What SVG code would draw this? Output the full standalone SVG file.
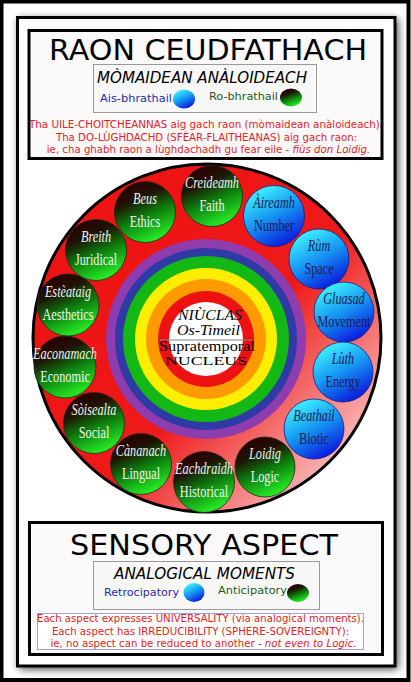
<svg xmlns="http://www.w3.org/2000/svg" width="411" height="682" viewBox="0 0 411 682">
<defs>
<filter id="blur" x="-10%" y="-10%" width="120%" height="120%"><feGaussianBlur stdDeviation="4"/></filter>
<linearGradient id="gGreen" x1="0.3" y1="0.05" x2="0.7" y2="0.95">
<stop offset="0" stop-color="#2a0000"/><stop offset="0.25" stop-color="#1e1404"/><stop offset="0.55" stop-color="#0c7a0c"/><stop offset="1" stop-color="#26ee26"/>
</linearGradient>
<linearGradient id="gBlue" x1="0.25" y1="0.05" x2="0.75" y2="0.95">
<stop offset="0" stop-color="#3cf2ff"/><stop offset="0.5" stop-color="#1592f2"/><stop offset="1" stop-color="#0a18dc"/>
</linearGradient>
<linearGradient id="gRing" x1="0.3" y1="0.25" x2="0.95" y2="0.85">
<stop offset="0" stop-color="#ee1414"/><stop offset="0.45" stop-color="#ee1a1a"/><stop offset="1" stop-color="#fcc8c8"/>
</linearGradient>
<style>
.sans{font-family:"DejaVu Sans",sans-serif}
.serif{font-family:"Liberation Serif","Times New Roman",serif}
.red{fill:#e02424;font-size:10.2px;text-anchor:middle}
.box{fill:#fcf9fb}
.frame{fill:none;stroke:#000;stroke-width:3}
.sub{fill:#f8f8f8;stroke:#9a9a9a;stroke-width:1}
.green circle{fill:url(#gGreen);stroke:#1a2a1a;stroke-width:0.8}
.blue circle{fill:url(#gBlue);stroke:#10208a;stroke-width:0.8}
.green text{fill:#f2f2f2}
.blue text{fill:#1b1b55}
.asp text{font-family:"Liberation Serif","Times New Roman",serif;font-size:17.5px;text-anchor:middle}
.it{font-style:italic}
</style>
</defs>

<!-- background and outer frame -->
<rect x="0" y="0" width="411" height="682" fill="#fff"/>
<rect x="19" y="19" width="379" height="650" fill="#000" opacity="0.75" filter="url(#blur)"/>
<rect x="1.5" y="1.5" width="407" height="678.5" fill="none" stroke="#000" stroke-width="4"/>
<rect x="17.5" y="17.5" width="377.5" height="648.5" fill="#fff" stroke="#000" stroke-width="3"/>

<!-- top box -->
<g id="header">
<rect x="29" y="30.5" width="353" height="128" class="box"/>
<text x="208" y="60" class="sans" font-size="29" text-anchor="middle" textLength="318" lengthAdjust="spacingAndGlyphs">RAON CEUDFATHACH</text>
<rect x="93.5" y="64.5" width="223" height="48" class="sub"/>
<text x="202" y="83" class="sans it" font-size="15" text-anchor="middle" textLength="210" lengthAdjust="spacingAndGlyphs">MÒMAIDEAN ANÀLOIDEACH</text>
<text x="100" y="102" class="sans" font-size="11.3" fill="#2a2aa8" textLength="72" lengthAdjust="spacingAndGlyphs">Ais-bhrathail</text>
<ellipse cx="184" cy="99" rx="11" ry="9.5" fill="url(#gBlue)"/>
<text x="209" y="99.5" class="sans" font-size="11.3" fill="#1d5a1d" textLength="69" lengthAdjust="spacingAndGlyphs">Ro-bhrathail</text>
<ellipse cx="291" cy="97.5" rx="11" ry="9" fill="url(#gGreen)"/>
<text x="206" y="128" class="sans red" textLength="354" lengthAdjust="spacingAndGlyphs">Tha UILE-CHOITCHEANNAS aig gach raon (mòmaidean anàloideach).</text>
<text x="206.5" y="140.5" class="sans red">Tha DO-LÙGHDACHD (SFÈAR-FLAITHEANAS) aig gach raon:</text>
<text x="208.5" y="153" class="sans red">ie, cha ghabh raon a lùghdachadh gu fear eile - <tspan font-style="italic">fiùs don Loidig.</tspan></text>
<rect x="29" y="30.5" width="353" height="128" class="frame"/>
</g>

<!-- main circle -->
<g id="circle">
<circle cx="207" cy="338" r="174" fill="url(#gRing)" stroke="#000" stroke-width="3"/>
</g>

<g id="nucleus">
<circle cx="206" cy="339" r="100" fill="#8e3cae"/>
<circle cx="206" cy="339" r="91" fill="#2f3aa6"/>
<circle cx="206" cy="339" r="83" fill="#14b814"/>
<circle cx="206" cy="339" r="71" fill="#ffee00"/>
<circle cx="206" cy="339" r="60" fill="#ff9a00"/>
<circle cx="206" cy="339" r="48" fill="#ee1111"/>
<circle cx="206" cy="339" r="37" fill="#fff"/>
<text x="210" y="320" class="serif it" font-size="15" text-anchor="middle" textLength="64" lengthAdjust="spacingAndGlyphs">NIÙCLAS</text>
<text x="208.5" y="335" class="serif it" font-size="15" text-anchor="middle" textLength="63" lengthAdjust="spacingAndGlyphs">Os-Timeil</text>
<line x1="160" y1="340" x2="252" y2="340" stroke="#888" stroke-width="1"/>
<text x="207" y="351" class="serif" font-size="14.5" text-anchor="middle" textLength="96" lengthAdjust="spacingAndGlyphs">Supratemporal</text>
<text x="206" y="364.5" class="serif" font-size="13.5" text-anchor="middle" textLength="82" lengthAdjust="spacingAndGlyphs">NUCLEUS</text>
</g>

<!-- aspects -->
<g id="faith" class="asp green" transform="translate(212,196)"><circle r="30.5"/><text class="it" y="-8.5" transform="scale(0.7,1)">Creideamh</text><text y="15.5" transform="scale(0.7,1)">Faith</text></g>
<g id="number" class="asp blue" transform="translate(274,216)"><circle r="30.5"/><text class="it" y="-8.5" transform="scale(0.7,1)">Àireamh</text><text y="15.5" transform="scale(0.7,1)">Number</text></g>
<g id="space" class="asp blue" transform="translate(319,259)"><circle r="30"/><text class="it" y="-8.5" transform="scale(0.7,1)">Rùm</text><text y="15.5" transform="scale(0.7,1)">Space</text></g>
<g id="movement" class="asp blue" transform="translate(344,312)"><circle r="30"/><text class="it" y="-8.5" transform="scale(0.7,1)">Gluasad</text><text y="15.5" transform="scale(0.7,1)">Movement</text></g>
<g id="energy" class="asp blue" transform="translate(343,372)"><circle r="30"/><text class="it" y="-8.5" transform="scale(0.7,1)">Lùth</text><text y="15.5" transform="scale(0.7,1)">Energy</text></g>
<g id="biotic" class="asp blue" transform="translate(314,429)"><circle r="30"/><text class="it" y="-8.5" transform="scale(0.7,1)">Beathail</text><text y="15.5" transform="scale(0.7,1)">Biotic</text></g>
<g id="logic" class="asp green" transform="translate(265,467)"><circle r="30"/><text class="it" y="-8.5" transform="scale(0.7,1)">Loidig</text><text y="15.5" transform="scale(0.7,1)">Logic</text></g>
<g id="historical" class="asp green" transform="translate(204,482)"><circle r="30.5"/><text class="it" y="-8.5" transform="scale(0.7,1)">Eachdraidh</text><text y="15.5" transform="scale(0.7,1)">Historical</text></g>
<g id="lingual" class="asp green" transform="translate(141,464)"><circle r="30.5"/><text class="it" y="-8.5" transform="scale(0.7,1)">Cànanach</text><text y="15.5" transform="scale(0.7,1)">Lingual</text></g>
<g id="social" class="asp green" transform="translate(94,423)"><circle r="30.5"/><text class="it" y="-8.5" transform="scale(0.7,1)">Sòisealta</text><text y="15.5" transform="scale(0.7,1)">Social</text></g>
<g id="economic" class="asp green" transform="translate(65,367)"><circle r="31"/><text class="it" y="-8.5" transform="scale(0.7,1)">Eaconamach</text><text y="15.5" transform="scale(0.7,1)">Economic</text></g>
<g id="aesthetics" class="asp green" transform="translate(68,305)"><circle r="31"/><text class="it" y="-8.5" transform="scale(0.7,1)">Estèataig</text><text y="15.5" transform="scale(0.7,1)">Aesthetics</text></g>
<g id="juridical" class="asp green" transform="translate(96,250)"><circle r="30.5"/><text class="it" y="-8.5" transform="scale(0.7,1)">Breith</text><text y="15.5" transform="scale(0.7,1)">Juridical</text></g>
<g id="ethics" class="asp green" transform="translate(145,212)"><circle r="30.5"/><text class="it" y="-8.5" transform="scale(0.7,1)">Beus</text><text y="15.5" transform="scale(0.7,1)">Ethics</text></g>

<!-- bottom box -->
<g id="footer">
<rect x="29.5" y="522.5" width="353" height="132" class="box"/>
<text x="204" y="555" class="sans" font-size="29" text-anchor="middle" textLength="268" lengthAdjust="spacingAndGlyphs">SENSORY ASPECT</text>
<rect x="93.5" y="561.5" width="226" height="48" class="sub"/>
<text x="204.5" y="579" class="sans it" font-size="15" text-anchor="middle" textLength="181" lengthAdjust="spacingAndGlyphs">ANALOGICAL MOMENTS</text>
<text x="104" y="596" class="sans" font-size="10.2" fill="#2a2aa8" textLength="75" lengthAdjust="spacingAndGlyphs">Retrocipatory</text>
<ellipse cx="194" cy="592.5" rx="10.5" ry="9.5" fill="url(#gBlue)"/>
<text x="218" y="594" class="sans" font-size="11.3" fill="#1d5a1d" textLength="69" lengthAdjust="spacingAndGlyphs">Anticipatory</text>
<ellipse cx="298" cy="593" rx="11" ry="9" fill="url(#gGreen)"/>
<rect x="37.5" y="613.5" width="326" height="36" fill="#fff" stroke="#a0a0e0" stroke-width="1"/>
<text x="200.5" y="621.5" class="sans red" textLength="327" lengthAdjust="spacingAndGlyphs">Each aspect expresses UNIVERSALITY (via analogical moments).</text>
<text x="200.5" y="634.5" class="sans red">Each aspect has IRREDUCIBILITY (SPHERE-SOVEREIGNTY):</text>
<text x="203.5" y="646.5" class="sans red">ie, no aspect can be reduced to another - <tspan font-style="italic">not even to Logic.</tspan></text>
<rect x="29.5" y="522.5" width="353" height="132" class="frame"/>
</g>
</svg>
